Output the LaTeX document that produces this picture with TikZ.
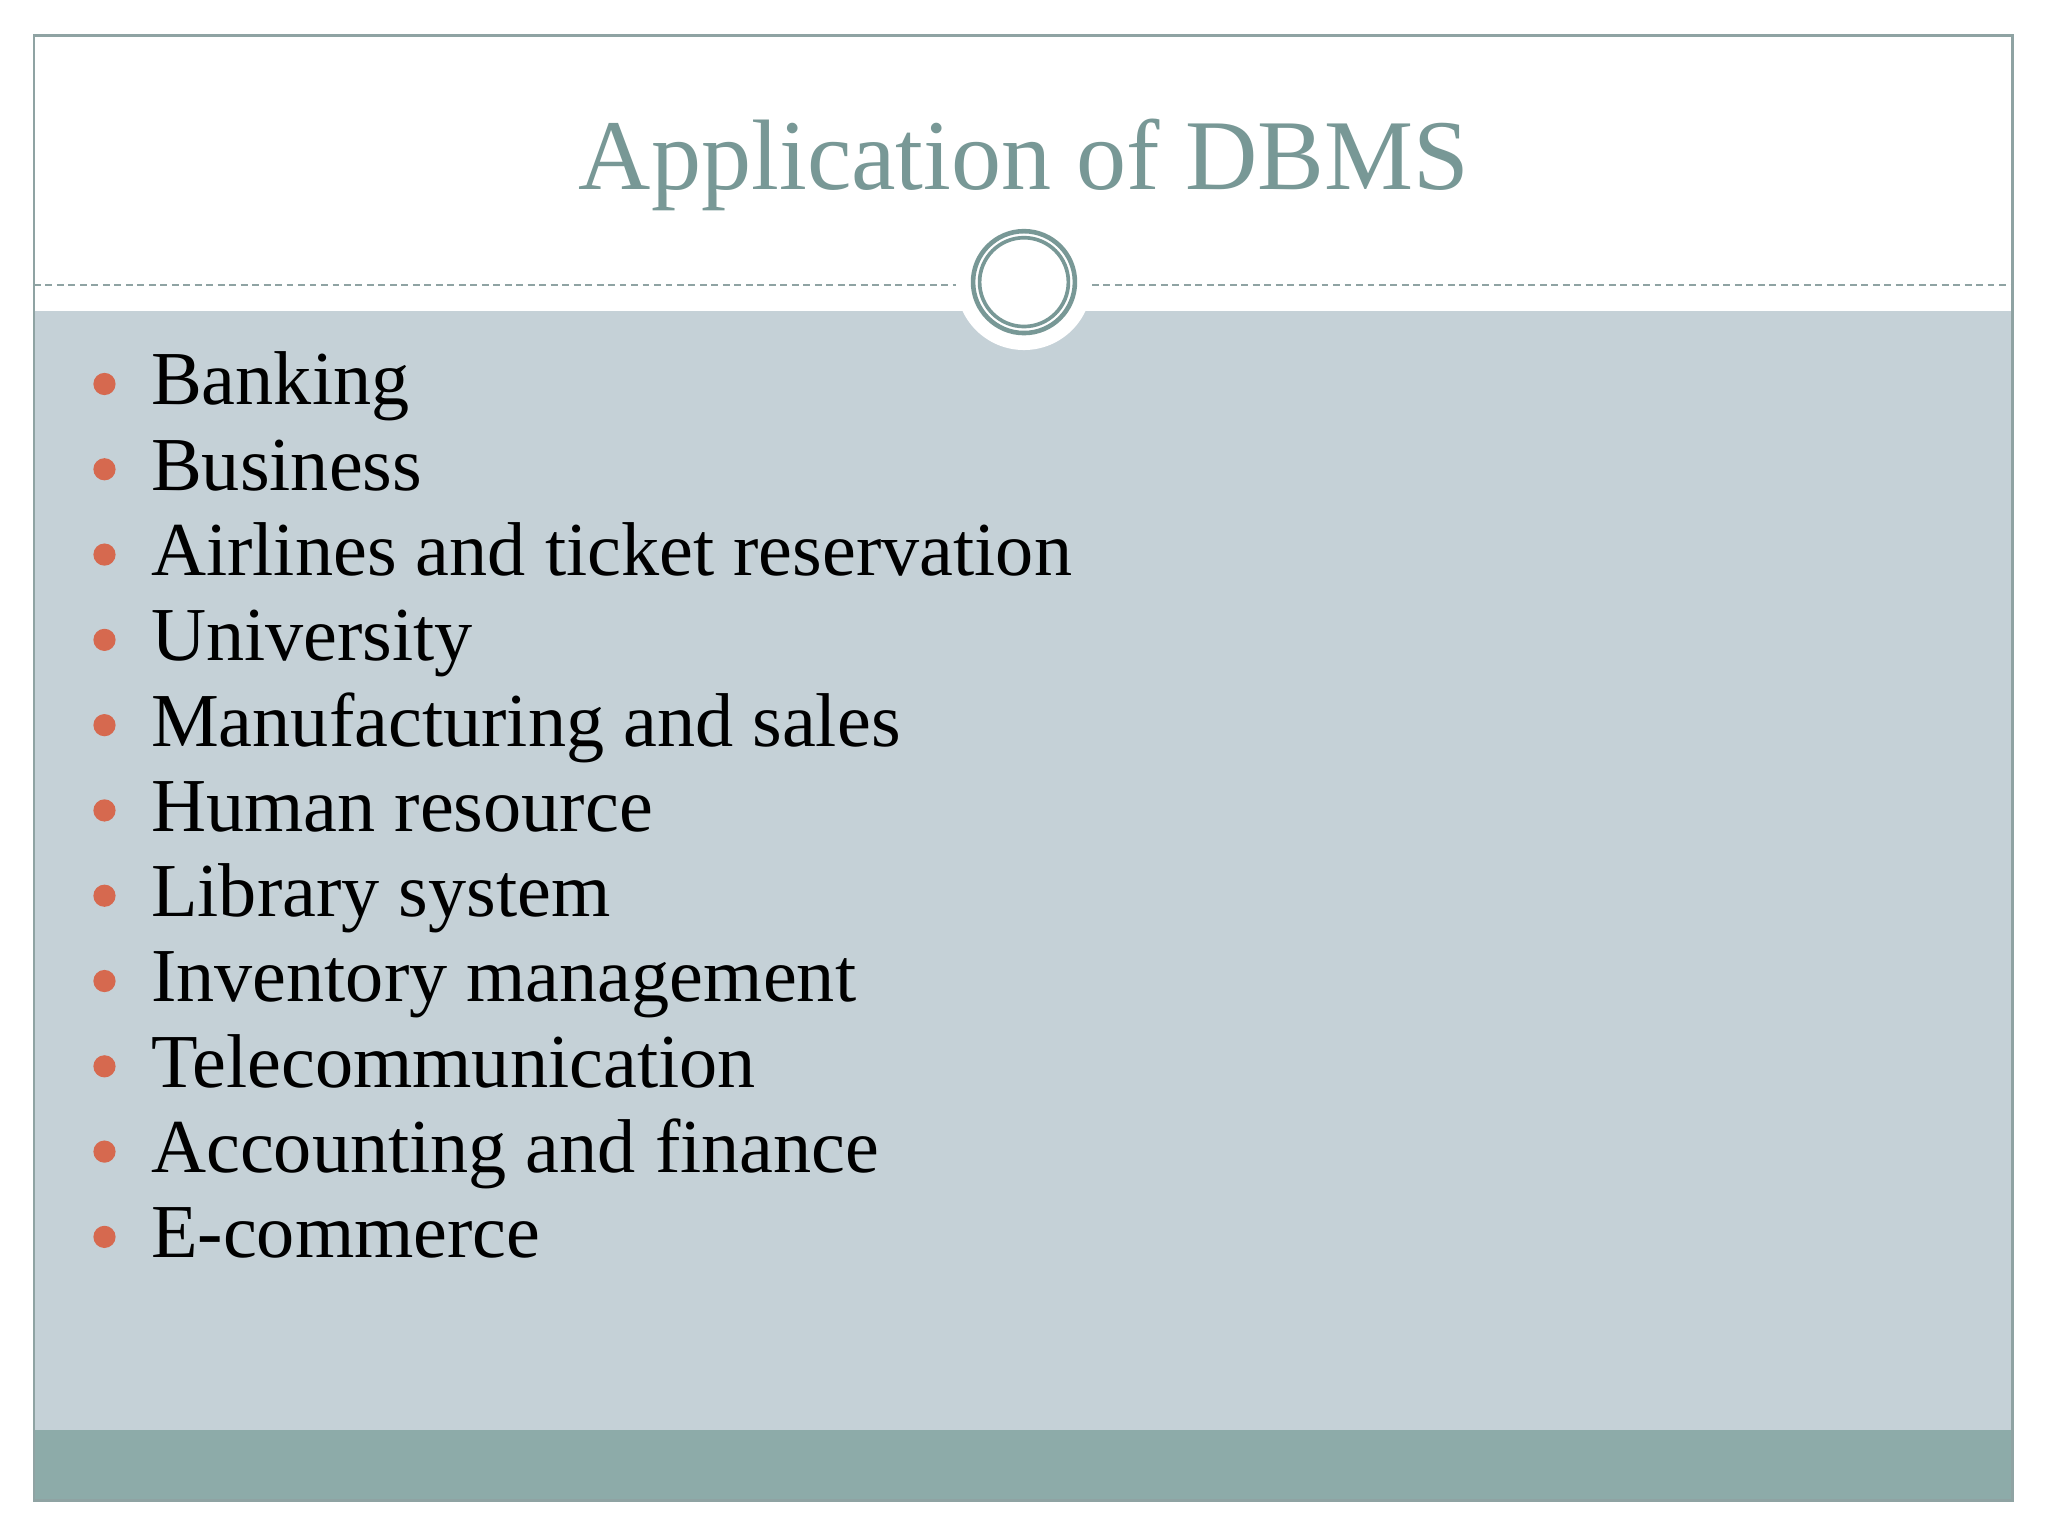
\documentclass[tikz,border=0pt]{standalone}
\usepackage{fontspec}
\setmainfont{Liberation Serif}
\definecolor{bodyc}{HTML}{C5D1D7}
\definecolor{bandc}{HTML}{8DABA9}
\definecolor{titlec}{HTML}{789896}
\definecolor{bulc}{HTML}{D6694F}
\definecolor{framec}{HTML}{8FA3A3}
\tikzset{item/.style={anchor=base west,font=\fontsize{16.6}{19}\selectfont,text=black,inner sep=0pt},
bul/.style={circle,fill=bulc,minimum size=0.17cm,inner sep=0pt}}
\begin{document}
\begin{tikzpicture}[x=0.01cm,y=-0.01cm]
\useasboundingbox[fill=white] (0,0) rectangle (1568,1176);
\fill[bodyc] (26,238) rectangle (1541,1095);
\fill[bandc] (26,1095) rectangle (1541,1149);
\draw[framec,line width=0.6pt] (26,27) rectangle (1541,1149);
\draw[framec,dash pattern=on 1.5pt off 1pt,line width=0.4pt] (26,218) -- (733,218);
\draw[framec,dash pattern=on 1.5pt off 1pt,line width=0.4pt] (836,218) -- (1541,218);
\fill[white] (784,216) circle (52);
\draw[titlec,line width=1pt] (784,216) circle (39);
\draw[titlec,line width=0.8pt] (784,216) circle (34);
\node[font=\fontsize{21.8}{25}\selectfont,text=titlec,anchor=base] (title) at (784,145) {Application of DBMS};
\foreach \t [count=\i] in {Banking,Business,Airlines and ticket reservation,University,Manufacturing and sales,Human resource,Library system,Inventory management,Telecommunication,Accounting and finance,E-commerce}{
  \node[bul] (b\i) at (80,{294+65.3*(\i-1)}) {};
  \node[item] (t\i) at (115,{310+65.3*(\i-1)}) {\t};
}
\end{tikzpicture}
\end{document}
